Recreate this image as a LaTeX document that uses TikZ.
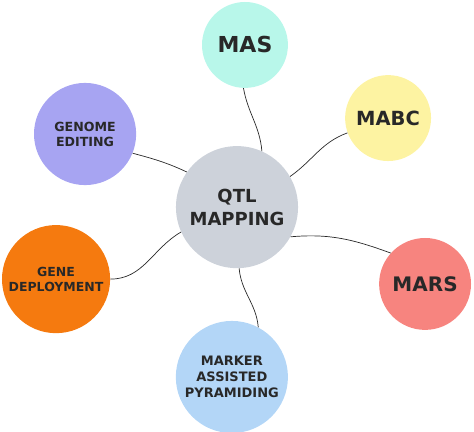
\documentclass[tikz,border=0pt]{standalone}
\usepackage{fontspec}
\setmainfont{DejaVu Sans}
\definecolor{qtlgray}{RGB}{205,210,218}
\definecolor{masgreen}{RGB}{184,247,234}
\definecolor{mabcyellow}{RGB}{253,243,162}
\definecolor{genomeviolet}{RGB}{167,164,242}
\definecolor{geneorange}{RGB}{245,122,15}
\definecolor{marsred}{RGB}{247,132,127}
\definecolor{pyrblue}{RGB}{179,214,247}
\definecolor{inkgray}{RGB}{40,40,40}
\begin{document}
\begin{tikzpicture}
    % Node styles
    \tikzstyle{none}=[inner sep=0mm]
    \tikzstyle{bubble}=[draw=none, shape=circle, inner sep=0mm, align=center, text=inkgray, font=\bfseries]
    \tikzstyle{big bubble}=[bubble, fill=qtlgray, minimum size=4.29cm, font=\bfseries\fontsize{18}{23}\selectfont]
    \tikzstyle{mas bubble}=[bubble, fill=masgreen, minimum size=3.02cm, font=\bfseries\fontsize{22}{24}\selectfont]
    \tikzstyle{mabc bubble}=[bubble, fill=mabcyellow, minimum size=3.02cm, font=\bfseries\fontsize{19.5}{22}\selectfont]
    \tikzstyle{genome bubble}=[bubble, fill=genomeviolet, minimum size=3.59cm, font=\bfseries\fontsize{12.6}{15}\selectfont]
    \tikzstyle{gene bubble}=[bubble, fill=geneorange, minimum size=3.8cm, font=\bfseries\fontsize{12.5}{15}\selectfont]
    \tikzstyle{mars bubble}=[bubble, fill=marsred, minimum size=3.23cm, font=\bfseries\fontsize{20}{22}\selectfont]
    \tikzstyle{pyr bubble}=[bubble, fill=pyrblue, minimum size=3.94cm, font=\bfseries\fontsize{13}{16}\selectfont]
    % Edge styles
    \tikzstyle{link}=[draw=inkgray, line width=0.7pt]

    \useasboundingbox (0, 0) rectangle (16.66, 15.15);

    \node [style=big bubble] (0) at (8.33, 7.87) {QTL\\MAPPING};
    \node [style=mas bubble] (1) at (8.61, 13.57) {MAS};
    \node [style=mabc bubble] (2) at (13.64, 11.0) {MABC};
    \node [style=genome bubble] (3) at (2.99, 10.44) {GENOME\\EDITING};
    \node [style=gene bubble] (4) at (1.97, 5.34) {GENE\\DEPLOYMENT};
    \node [style=mars bubble] (5) at (14.94, 5.17) {MARS};
    \node [style=pyr bubble] (6) at (8.15, 1.9) {MARKER\\ASSISTED\\PYRAMIDING};

    \draw [style=link] (1.-92) to [out=-80, in=95] (0.66);
    \draw [style=link] (2.200) to [out=200, in=35] (0.30);
    \draw [style=link] (3.-22) to [out=-15, in=155] (0.145);
    \draw [style=link] (4.0) to [out=0, in=210] (0.204);
    \draw [style=link] (0.-29) to [out=5, in=160] (5.138);
    \draw [style=link] (0.-88) to [out=-85, in=95] (6.62);
\end{tikzpicture}
\end{document}
